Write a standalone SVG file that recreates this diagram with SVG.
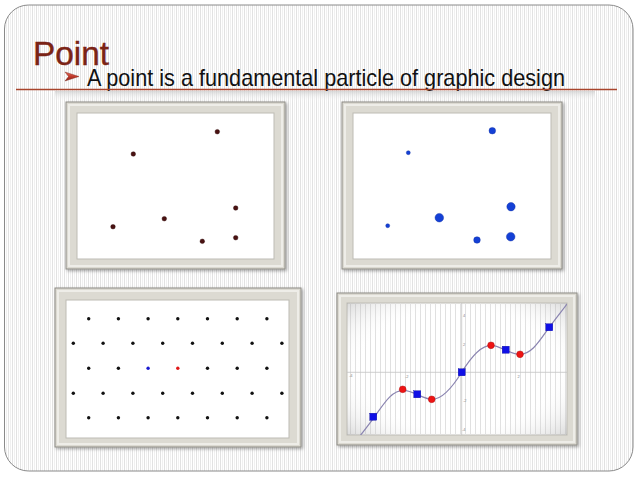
<svg xmlns="http://www.w3.org/2000/svg" width="638" height="478" viewBox="0 0 638 478">
<defs>
<pattern id="stripes" width="4" height="4" patternUnits="userSpaceOnUse">
<rect width="4" height="4" fill="#ffffff"/>
<rect x="0" width="1" height="4" fill="#e2e2e2"/>
<rect x="2" width="1" height="4" fill="#f0f0f0"/>
</pattern>
<pattern id="plotstripes" width="5" height="5" patternUnits="userSpaceOnUse">
<rect x="0" width="1" height="5" fill="#e0e0e0"/>
</pattern>
<radialGradient id="vignette" cx="0.5" cy="0.5" r="0.72">
<stop offset="0.6" stop-color="#ffffff" stop-opacity="0"/>
<stop offset="1" stop-color="#9a9a9a" stop-opacity="0.4"/>
</radialGradient>
<linearGradient id="band" x1="0" y1="0" x2="0" y2="1">
<stop offset="0" stop-color="#cfcfcf" stop-opacity="0.8"/>
<stop offset="1" stop-color="#ffffff" stop-opacity="0"/>
</linearGradient>
<linearGradient id="bulletgrad" x1="0" y1="0" x2="0" y2="1">
<stop offset="0" stop-color="#e07060"/>
<stop offset="0.5" stop-color="#c0392b"/>
<stop offset="1" stop-color="#8a2418"/>
</linearGradient>
<filter id="shadow" x="-10%" y="-10%" width="125%" height="125%">
<feDropShadow dx="1.5" dy="1.5" stdDeviation="1.5" flood-color="#000" flood-opacity="0.35"/>
</filter>
<clipPath id="plotclip"><rect x="347" y="303" width="220" height="132"/></clipPath>
</defs>
<style>
.frame{fill:#dcdad2;stroke:#8e8c85;stroke-width:1}
.mat{fill:#ffffff;stroke:#bdbbb4;stroke-width:1}
.bevel{fill:none;stroke:#eeede8;stroke-width:2}
.d1{fill:#4a1212;stroke:#2a0808;stroke-width:0.4}
.d2{fill:#1440d6;stroke:#0a2aa0;stroke-width:0.4}
.d3{fill:#111111}
.sq{fill:#1010e6;stroke:#0a0aa0;stroke-width:0.4}
.rc{fill:#ee1414;stroke:#a00a0a;stroke-width:0.4}
.tick{font-family:"Liberation Sans",Arial,sans-serif;font-size:4px;fill:#888888}
</style>
<rect x="0" y="0" width="638" height="478" fill="#ffffff"/>
<rect x="4.5" y="5" width="628.5" height="466" rx="24" ry="24" fill="url(#stripes)" stroke="#8a8a8a" stroke-width="1"/>
<rect x="55" y="91" width="540" height="11" fill="url(#band)"/>
<g id="title">
<text x="33" y="65" font-family="Liberation Sans, Arial, sans-serif" font-size="33" fill="#7b2416" stroke="#7b2416" stroke-width="0.4" textLength="76" lengthAdjust="spacingAndGlyphs">Point</text>
<polygon points="65,72 79,76.5 65,81 68.5,76.5" fill="url(#bulletgrad)" stroke="#7a2014" stroke-width="0.4"/>
<text x="87" y="86" font-family="Liberation Sans, Arial, sans-serif" font-size="24" fill="#111111" textLength="478" lengthAdjust="spacingAndGlyphs">A point is a fundamental particle of graphic design</text>
<line x1="16" y1="89.5" x2="617" y2="89.5" stroke="#a8442c" stroke-width="1.5"/>
</g>
<g id="frame1">
<rect class="frame" x="66" y="102" width="219" height="167" filter="url(#shadow)"/>
<rect class="bevel" x="69" y="105" width="213" height="161"/>
<rect class="mat" x="77" y="113" width="197" height="146"/>
<circle class="d1" cx="217.3" cy="131.7" r="2.3"/>
<circle class="d1" cx="133.3" cy="154" r="2.3"/>
<circle class="d1" cx="235.7" cy="208" r="2.3"/>
<circle class="d1" cx="164.3" cy="218.7" r="2.3"/>
<circle class="d1" cx="113" cy="226.7" r="2.3"/>
<circle class="d1" cx="202.3" cy="241.3" r="2.3"/>
<circle class="d1" cx="235.7" cy="237.7" r="2.3"/>
</g>
<g id="frame2">
<rect class="frame" x="342" y="102" width="220" height="167" filter="url(#shadow)"/>
<rect class="bevel" x="345" y="105" width="214" height="161"/>
<rect class="mat" x="353" y="113" width="198" height="146"/>
<circle class="d2" cx="492.3" cy="130.7" r="3.3"/>
<circle class="d2" cx="408.3" cy="152.7" r="2"/>
<circle class="d2" cx="511" cy="206.7" r="4.2"/>
<circle class="d2" cx="439.3" cy="217.7" r="4.3"/>
<circle class="d2" cx="387.7" cy="225.7" r="2"/>
<circle class="d2" cx="477" cy="240" r="3.3"/>
<circle class="d2" cx="510.7" cy="236.7" r="4.3"/>
</g>
<g id="frame3">
<rect class="frame" x="55" y="288" width="246" height="159" filter="url(#shadow)"/>
<rect class="bevel" x="58" y="291" width="240" height="153"/>
<rect class="mat" x="66" y="300" width="223" height="138"/>
<g class="d3">
<circle cx="88.7" cy="318.7" r="1.7"/><circle cx="118.4" cy="318.7" r="1.7"/><circle cx="148.1" cy="318.7" r="1.7"/><circle cx="177.8" cy="318.7" r="1.7"/><circle cx="207.5" cy="318.7" r="1.7"/><circle cx="237.2" cy="318.7" r="1.7"/><circle cx="266.9" cy="318.7" r="1.7"/>
<circle cx="73.3" cy="343.3" r="1.7"/><circle cx="103.1" cy="343.3" r="1.7"/><circle cx="132.9" cy="343.3" r="1.7"/><circle cx="162.7" cy="343.3" r="1.7"/><circle cx="192.5" cy="343.3" r="1.7"/><circle cx="222.3" cy="343.3" r="1.7"/><circle cx="252.1" cy="343.3" r="1.7"/><circle cx="281.9" cy="343.3" r="1.7"/>
<circle cx="88.7" cy="368.3" r="1.7"/><circle cx="118.4" cy="368.3" r="1.7"/><circle cx="207.5" cy="368.3" r="1.7"/><circle cx="237.2" cy="368.3" r="1.7"/><circle cx="266.9" cy="368.3" r="1.7"/>
<circle cx="73.3" cy="393.3" r="1.7"/><circle cx="103.1" cy="393.3" r="1.7"/><circle cx="132.9" cy="393.3" r="1.7"/><circle cx="162.7" cy="393.3" r="1.7"/><circle cx="192.5" cy="393.3" r="1.7"/><circle cx="222.3" cy="393.3" r="1.7"/><circle cx="252.1" cy="393.3" r="1.7"/><circle cx="281.9" cy="393.3" r="1.7"/>
<circle cx="88.7" cy="417.7" r="1.7"/><circle cx="118.4" cy="417.7" r="1.7"/><circle cx="148.1" cy="417.7" r="1.7"/><circle cx="177.8" cy="417.7" r="1.7"/><circle cx="207.5" cy="417.7" r="1.7"/><circle cx="237.2" cy="417.7" r="1.7"/><circle cx="266.9" cy="417.7" r="1.7"/>
</g>
<circle cx="148.1" cy="368.3" r="1.7" fill="#1a1ad0"/>
<circle cx="177.8" cy="368.3" r="1.7" fill="#e01818"/>
</g>
<g id="frame4">
<rect class="frame" x="337" y="293" width="240" height="152" filter="url(#shadow)"/>
<rect class="bevel" x="340" y="296" width="234" height="146"/>
<rect class="mat" x="347" y="303" width="220" height="132"/>
<rect x="347" y="303" width="220" height="132" fill="url(#plotstripes)"/>
<rect x="347" y="303" width="220" height="132" fill="url(#vignette)"/>
<line x1="347" y1="372.3" x2="567" y2="372.3" stroke="#c4c4c4" stroke-width="0.8"/>
<line x1="461.7" y1="303" x2="461.7" y2="435" stroke="#c4c4c4" stroke-width="0.8"/>
<text class="tick" x="349" y="377">-4</text>
<text class="tick" x="405" y="378">-2</text>
<text class="tick" x="517.5" y="378">2</text>
<text class="tick" x="463" y="317">4</text>
<text class="tick" x="463" y="346">2</text>
<text class="tick" x="463" y="402">-2</text>
<text class="tick" x="462" y="431">-4</text>
<path clip-path="url(#plotclip)" d="M356.4,440.6 C362.4,432.6 367.4,426.6 374.1,417.3 C383.4,404.6 391.4,390.3 403.4,390.3 C413,390.3 423,399.3 432.4,399.3 C442,399.3 452,388 461.7,372.3 C471,357 481,345.3 491,345.3 C500,345.3 510,354.3 520,354.3 C532,354.3 540,340 549.3,327.3 C556,318 561,312 567,304" fill="none" stroke="#8a84b0" stroke-width="1.2"/>
<rect class="sq" x="369.8" y="413.2" width="7" height="7"/>
<rect class="sq" x="413.8" y="390.8" width="7" height="7"/>
<rect class="sq" x="458.2" y="368.8" width="7" height="7"/>
<rect class="sq" x="502.2" y="346.2" width="7" height="7"/>
<rect class="sq" x="545.8" y="323.8" width="7" height="7"/>
<circle class="rc" cx="402.7" cy="389.3" r="3.4"/>
<circle class="rc" cx="431.7" cy="399.3" r="3.4"/>
<circle class="rc" cx="491" cy="345.3" r="3.4"/>
<circle class="rc" cx="520" cy="354.3" r="3.4"/>
</g>
</svg>
